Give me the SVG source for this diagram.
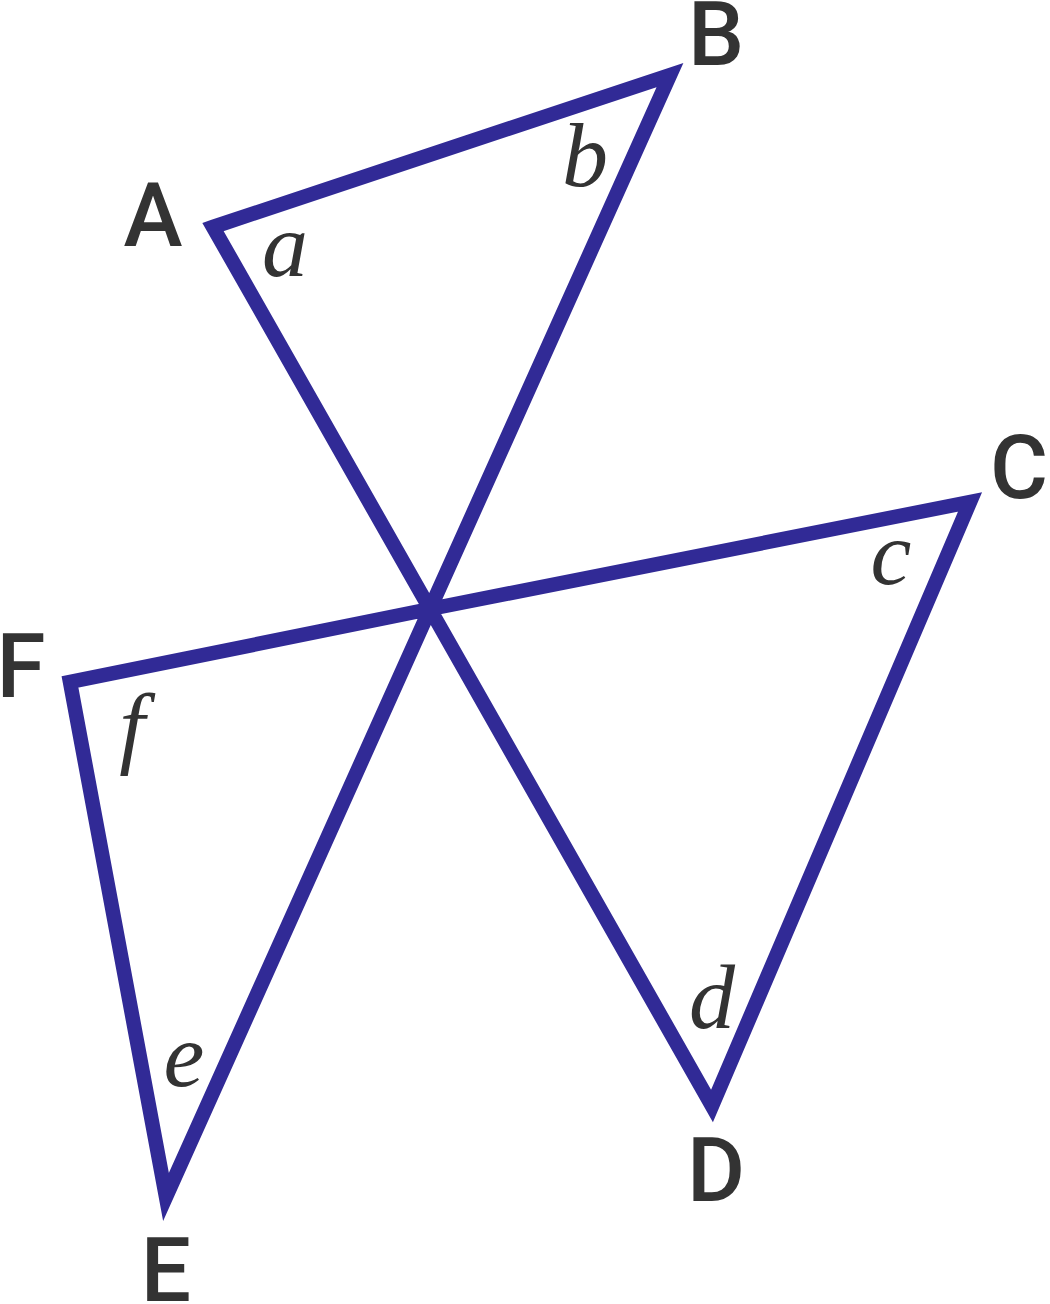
<svg xmlns="http://www.w3.org/2000/svg" width="1050" height="1304" viewBox="0 0 1050 1304">
<style>
.edge{fill:none;stroke:#312a96;stroke-width:14.5;stroke-linejoin:miter;stroke-miterlimit:10}
.pt{font-family:Roboto,"Liberation Sans",sans-serif;font-size:89px;font-weight:500;fill:#333;text-anchor:middle}
.ang{font-family:"Liberation Serif",serif;font-style:italic;font-size:92px;fill:#333;text-anchor:middle}
</style>
<rect width="1050" height="1304" fill="#fff"/>
<g id="connectors">
<path class="edge" d="M213,227 L670,75 L430,609 L166,1197 L70,682 L430,609 L970,502 L712,1106 L430,609 Z"/>
</g>
<g id="A"><text class="pt" x="153" y="246">A</text><text class="ang" x="285" y="276">a</text></g>
<g id="B"><text class="pt" x="716" y="65">B</text><text class="ang" x="585" y="186">b</text></g>
<g id="C"><text class="pt" x="1019" y="498">C</text><text class="ang" x="891" y="584">c</text></g>
<g id="D"><text class="pt" x="716" y="1201">D</text><text class="ang" x="712" y="1028">d</text></g>
<g id="E"><text class="pt" x="166" y="1301">E</text><text class="ang" x="184" y="1086">e</text></g>
<g id="F"><text class="pt" x="21" y="697">F</text><text class="ang" x="132" y="757">f</text></g>
</svg>
